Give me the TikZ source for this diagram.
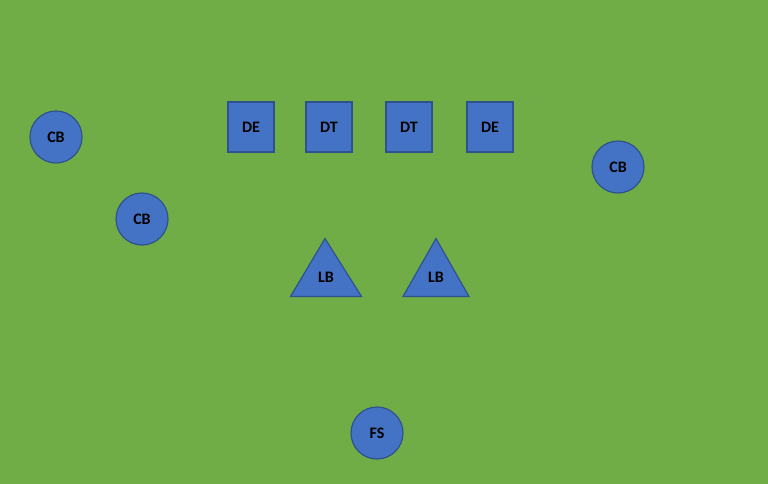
\documentclass[tikz,border=0pt]{standalone}
\usepackage{fontspec}
\setmainfont{Carlito}
\usetikzlibrary{shapes.geometric}
\definecolor{field}{HTML}{70AD47}
\definecolor{pfill}{HTML}{4472C4}
\definecolor{pline}{HTML}{2F528F}
\tikzset{
  lbl/.style={font=\fontsize{16}{18}\selectfont\bfseries, text=black},
  player/.style={fill=pfill, draw=pline, line width=1.2pt, inner sep=0pt, lbl},
  roundp/.style={player, circle, minimum size=52pt},
  boxp/.style={player, rectangle, minimum width=46pt, minimum height=50pt},
}
\begin{document}
\begin{tikzpicture}[x=1pt,y=-1pt]
\fill[field] (0,0) rectangle (768,484);
\useasboundingbox (0,0) rectangle (768,484);
\node[roundp] (cb1) at (56,137) {CB};
\node[roundp] (cb2) at (142,219) {CB};
\node[roundp] (cb3) at (618,167) {CB};
\node[roundp] (fs) at (377,433) {FS};
\node[boxp] (de1) at (251,127) {DE};
\node[boxp] (dt1) at (329,127) {DT};
\node[boxp] (dt2) at (409,127) {DT};
\node[boxp] (de2) at (490,127) {DE};
\coordinate (lb1c) at (326,277);
\coordinate (lb2c) at (436,277);
\draw[fill=pfill, draw=pline, line width=1.2pt] (325,238.5) -- (361.5,296.5) -- (290.5,296.5) -- cycle;
\draw[fill=pfill, draw=pline, line width=1.2pt] (436,238.5) -- (469,296.5) -- (403,296.5) -- cycle;
\node[lbl] (lb1) at (lb1c) {LB};
\node[lbl] (lb2) at (lb2c) {LB};
\end{tikzpicture}
\end{document}
